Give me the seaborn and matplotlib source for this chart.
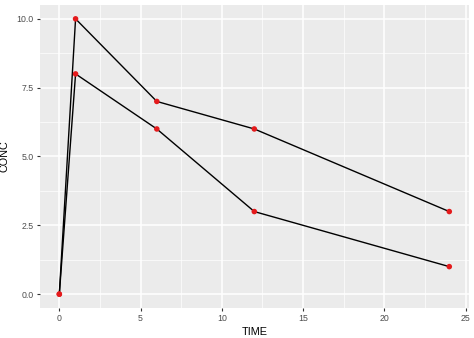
import matplotlib
matplotlib.use("Agg")
import matplotlib.pyplot as plt
from matplotlib.ticker import MultipleLocator
import seaborn as sns
import pandas as pd

# two subjects, concentration over time
time = [0, 1, 6, 12, 24]
conc_a = [0, 10, 7, 6, 3]
conc_b = [0, 8, 6, 3, 1]

df = pd.DataFrame({
    "TIME": time + time,
    "CONC": conc_a + conc_b,
    "ID": ["1"] * len(time) + ["2"] * len(time),
})

sns.set_theme(style="darkgrid", rc={"axes.facecolor": "#EBEBEB", "grid.color": "white"})
plt.rcParams["font.family"] = ["Liberation Sans", "DejaVu Sans"]

fig = plt.figure(figsize=(4.74, 3.38), dpi=100)
ax = fig.add_axes([0.084, 0.089, 0.905, 0.896])

sns.lineplot(data=df, x="TIME", y="CONC", units="ID", estimator=None,
             color="black", linewidth=1.0, ax=ax)
sns.scatterplot(data=df, x="TIME", y="CONC", color="#E41A1C", s=16,
                edgecolor="none", zorder=3, ax=ax)

ax.set_xlim(-1.2, 25.2)
ax.set_ylim(-0.5, 10.5)
ax.xaxis.set_major_locator(MultipleLocator(5))
ax.xaxis.set_minor_locator(MultipleLocator(2.5))
ax.yaxis.set_major_locator(MultipleLocator(2.5))
ax.yaxis.set_minor_locator(MultipleLocator(1.25))
ax.set_yticks(ax.get_yticks())
ax.set_yticklabels([f"{v:.1f}" for v in ax.get_yticks()])
ax.set_ylim(-0.5, 10.5)
ax.grid(which="major", color="white", linewidth=1.1)
ax.grid(which="minor", color="white", linewidth=0.5)
ax.tick_params(which="major", length=2.5, width=0.8, color="#333333",
               labelsize=6.3, labelcolor="#4D4D4D", pad=2, bottom=True, left=True)
ax.tick_params(which="minor", length=0)
for s in ax.spines.values():
    s.set_visible(False)
ax.set_xlabel("TIME", fontsize=7.8, color="black")
ax.set_ylabel("CONC", fontsize=7.8, color="black")
ax.xaxis.set_label_coords(0.5, -0.063)
ax.yaxis.set_label_coords(-0.07, 0.5)

fig.savefig("out.png", dpi=100)
